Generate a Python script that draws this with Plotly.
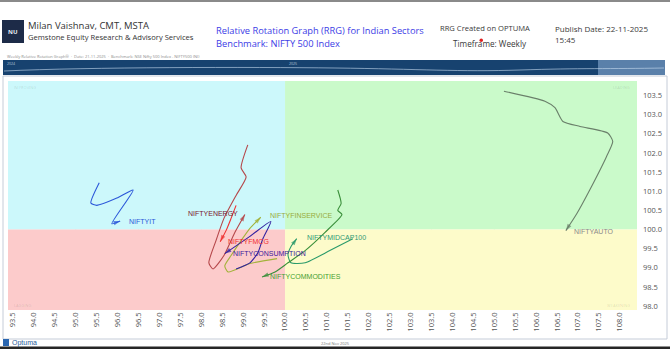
import plotly.graph_objects as go

# ---------------------------------------------------------------- data
# JdK RS-Ratio (x) and RS-Momentum (y) weekly trails, oldest -> latest
it_ratio = [95.56, 95.36, 95.50, 95.98, 96.37, 95.86, 96.06]
it_mom = [101.22, 100.69, 100.63, 100.82, 101.03, 100.15, 100.22]

energy_ratio = [99.11, 98.95, 99.07, 98.83, 98.54, 98.35, 98.18, 98.28, 98.54, 98.80, 99.04]
energy_mom = [102.21, 101.61, 101.37, 100.89, 100.29, 99.71, 99.13, 98.97, 99.32, 99.92, 100.39]

finservice_ratio = [99.81, 99.16, 98.64, 98.56, 98.71, 98.95, 99.16, 99.42]
finservice_mom = [99.24, 99.11, 98.89, 99.05, 99.32, 99.71, 100.03, 100.32]

fmcg_ratio = [98.83, 98.71, 98.59, 98.45]
fmcg_mom = [100.63, 100.29, 99.97, 99.68]

consumption_ratio = [98.83, 99.16, 99.35, 99.47, 99.66, 99.16, 98.56]
consumption_mom = [98.97, 99.13, 99.39, 99.76, 100.21, 99.82, 99.37]

midcap_ratio = [101.62, 101.07, 100.48, 100.14, 100.07, 100.14, 100.28]
midcap_mom = [99.76, 99.45, 99.13, 99.13, 99.34, 99.55, 99.76]

commodities_ratio = [101.26, 101.34, 101.26, 101.36, 100.95, 100.48, 100.07, 99.76, 99.45]
commodities_mom = [101.03, 100.68, 100.50, 100.39, 99.92, 99.45, 99.13, 98.89, 98.76]

auto_ratio = [105.23, 106.21, 106.45, 106.64, 107.05, 107.71, 107.83, 107.68, 107.28, 106.97, 106.71]
auto_mom = [103.61, 103.35, 103.18, 102.82, 102.69, 102.52, 102.30, 101.90, 101.03, 100.41, 99.97]

sector_names = ["NIFTYIT", "NIFTYENERGY", "NIFTYFINSERVICE", "NIFTYFMCG",
                "NIFTYCONSUMPTION", "NIFTYMIDCAP100", "NIFTYCOMMODITIES", "NIFTYAUTO"]
sector_ratio = [it_ratio, energy_ratio, finservice_ratio, fmcg_ratio,
                consumption_ratio, midcap_ratio, commodities_ratio, auto_ratio]
sector_mom = [it_mom, energy_mom, finservice_mom, fmcg_mom,
              consumption_mom, midcap_mom, commodities_mom, auto_mom]

# ---------------------------------------------------------------- styling
line_colors = ["#2b57d9", "#b5474a", "#a3b23a", "#ee3030",
               "#3322a0", "#2a9a6a", "#3a8f3a", "#6a7f6a"]
label_colors = ["#2b57d9", "#7a2030", "#98ab3a", "#f03030",
                "#3a1a9a", "#2e9a76", "#44a030", "#8a8a8a"]
# (xanchor, xshift, yshift) of each end label
label_place = [("left", 7, 0), ("right", -5, 1), ("left", 7, 2), ("left", 6, 0),
               ("left", 6, 0), ("left", 8, 1), ("left", 6, 0), ("left", 6, -1)]

W, H = 670, 349
ML, MR, MT, MB = 8, 33, 81, 39
PW, PH = W - ML - MR, H - MT - MB
X_RANGE = [93.38, 108.41]
Y_RANGE = [97.898, 103.877]
CENTER = 100.0


def fx(p):
    return (p - ML) / PW


def fy(p):
    return (H - MB - p) / PH


fig = go.Figure()

for name, xs, ys, lc in zip(sector_names, sector_ratio, sector_mom, line_colors):
    sizes = [0] * (len(xs) - 1) + [7]
    fig.add_trace(go.Scatter(
        x=xs, y=ys, mode="lines+markers", name=name,
        line=dict(color=lc, width=1.1, shape="spline", smoothing=0.6),
        marker=dict(size=sizes, symbol="arrow", angleref="previous", color=lc,
                    line=dict(width=0)),
        hoverinfo="name", showlegend=False,
    ))

annotations = []
for name, xs, ys, tc, (xa, xsft, ysft) in zip(sector_names, sector_ratio, sector_mom,
                                               label_colors, label_place):
    annotations.append(dict(
        x=xs[-1], y=ys[-1], xref="x", yref="y", text=name, showarrow=False,
        xanchor=xa, yanchor="middle", xshift=xsft, yshift=ysft,
        font=dict(family="Liberation Sans Narrow, Liberation Sans, Arial", size=7, color=tc),
    ))

# quadrant backgrounds
shapes = [
    dict(type="rect", xref="x", yref="y", x0=X_RANGE[0], x1=CENTER, y0=CENTER, y1=Y_RANGE[1],
         fillcolor="#ccf8fb", line=dict(width=0), layer="below"),
    dict(type="rect", xref="x", yref="y", x0=CENTER, x1=X_RANGE[1], y0=CENTER, y1=Y_RANGE[1],
         fillcolor="#cafaca", line=dict(width=0), layer="below"),
    dict(type="rect", xref="x", yref="y", x0=X_RANGE[0], x1=CENTER, y0=Y_RANGE[0], y1=CENTER,
         fillcolor="#fccbcb", line=dict(width=0), layer="below"),
    dict(type="rect", xref="x", yref="y", x0=CENTER, x1=X_RANGE[1], y0=Y_RANGE[0], y1=CENTER,
         fillcolor="#fdfbca", line=dict(width=0), layer="below"),
]
# faint vertical guides
for gx in [95.0, 96.5, 98.0, 103.5, 105.0]:
    shapes.append(dict(type="line", xref="x", yref="paper", x0=gx, x1=gx, y0=0, y1=1,
                       line=dict(color="rgba(0,0,0,0.07)", width=1), layer="below"))

# header / footer decorations (paper coordinates from pixel positions)
shapes += [
    dict(type="rect", xref="paper", yref="paper", x0=fx(0), x1=fx(670), y0=fy(0), y1=fy(2),
         fillcolor="#8a8a8a", line=dict(width=0)),
    dict(type="rect", xref="paper", yref="paper", x0=fx(2), x1=fx(24), y0=fy(43), y1=fy(20),
         fillcolor="#1d2b48", line=dict(width=0)),
    dict(type="rect", xref="paper", yref="paper", x0=fx(3), x1=fx(598), y0=fy(75), y1=fy(60),
         fillcolor="#17426f", line=dict(width=0)),
    dict(type="rect", xref="paper", yref="paper", x0=fx(598), x1=fx(665), y0=fy(75), y1=fy(60),
         fillcolor="#5a80aa", line=dict(width=0)),
    dict(type="path", xref="paper", yref="paper",
         path=(f"M {fx(4)},{fy(71)} C {fx(90)},{fy(67)} {fx(250)},{fy(67)} {fx(335)},{fy(68)} "
               f"S {fx(460)},{fy(72)} {fx(520)},{fy(70)} S {fx(610)},{fy(69)} {fx(664)},{fy(68)}"),
         line=dict(color="rgba(200,220,240,0.6)", width=1)),
    dict(type="rect", xref="paper", yref="paper", x0=fx(3), x1=fx(667), y0=fy(339), y1=fy(76),
         fillcolor="rgba(0,0,0,0)", line=dict(color="#c5ccd8", width=1)),
    dict(type="circle", xref="paper", yref="paper", x0=fx(479.5), x1=fx(483), y0=fy(42), y1=fy(38.5),
         fillcolor="#e02020", line=dict(width=0)),
    dict(type="rect", xref="paper", yref="paper", x0=fx(3), x1=fx(9), y0=fy(346), y1=fy(339),
         fillcolor="#2a66b0", line=dict(width=0)),
    dict(type="rect", xref="paper", yref="paper", x0=fx(0), x1=fx(670), y0=fy(349), y1=fy(346.5),
         fillcolor="#262626", line=dict(width=0)),
]


def txt(text, x, y, size, color, anchor="left", family="Open Sans", yanchor="middle"):
    annotations.append(dict(text=text, x=fx(x), y=fy(y), xref="paper", yref="paper",
                            showarrow=False, xanchor=anchor, yanchor=yanchor,
                            font=dict(family=family, size=size, color=color)))


txt("<b>NU</b>", 13, 32, 6, "#e8ecf4", anchor="center")
txt("Milan Vaishnav, CMT, MSTA", 26, 25, 9.5, "#333333")
txt("Gemstone Equity Research &amp; Advisory Services", 26, 36.5, 7.6, "#333333")
txt("Relative Rotation Graph (RRG) for Indian Sectors", 214, 31, 9.3, "#3c3ce6")
txt("Benchmark: NIFTY 500 Index", 214, 43.5, 9.3, "#3c3ce6")
txt("RRG Created on OPTUMA", 438, 28, 7.6, "#3a3a3a")
txt("Timeframe: Weekly", 451, 43, 8.2, "#3a3a3a")
txt("Publish Date: 22-11-2025", 553, 29, 8, "#3a3a3a")
txt("15:45", 553, 40, 8, "#3a3a3a")
txt("Weekly Relative Rotation Graph®  ·  Date: 21-11-2025  ·  Benchmark: NSE Nifty 500 Index - NIFTY500 (NI)",
    5, 56, 4, "#8a8a8a")
txt("2024", 5, 63, 3.5, "#b8c8dc")
txt("2025", 287, 63, 3.5, "#b8c8dc")
txt("Optuma", 10, 343, 7, "#1f5a9a", family="Liberation Sans")
txt("22nd Nov 2025", 335, 343, 4, "#777777", anchor="center")

# faint quadrant captions
txt("IMPROVING", 12, 88, 4, "rgba(0,0,0,0.14)")
txt("LEADING", 632, 88, 4, "rgba(0,0,0,0.14)", anchor="right")
txt("LAGGING", 12, 305, 4, "rgba(0,0,0,0.14)")
txt("WEAKENING", 632, 305, 4, "rgba(0,0,0,0.14)", anchor="right")

fig.update_layout(
    width=W, height=H, margin=dict(l=ML, r=MR, t=MT, b=MB),
    paper_bgcolor="white", plot_bgcolor="white",
    shapes=shapes, annotations=annotations, showlegend=False,
    xaxis=dict(range=X_RANGE, tick0=93.5, dtick=0.5, tickformat=".1f", tickangle=-90,
               showgrid=False, zeroline=False, showline=False, ticks="",
               tickfont=dict(family="Open Sans", size=7.5, color="#555555"), fixedrange=True),
    yaxis=dict(range=Y_RANGE, tick0=98.0, dtick=0.5, tickformat=".1f", side="right",
               showgrid=False, zeroline=False, showline=False, ticks="",
               ticklabelstandoff=5,
               tickfont=dict(family="Open Sans", size=7.5, color="#555555"), fixedrange=True),
)

fig.write_html("out.html")
